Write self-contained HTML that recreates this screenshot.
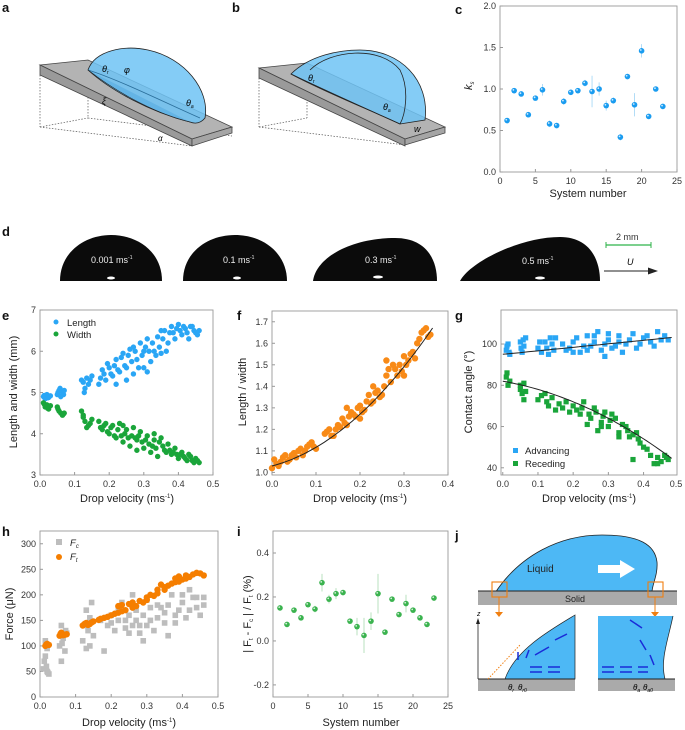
<!DOCTYPE html>
<html><head><meta charset="utf-8">
<style>
html,body{margin:0;padding:0;background:#fff;}
svg{display:block;font-family:"Liberation Sans",sans-serif;}
</style></head>
<body>
<svg id="fig" width="685" height="730" viewBox="0 0 685 730" xmlns="http://www.w3.org/2000/svg">
<g font-weight="bold" font-size="13" fill="#111">
<text x="2" y="12">a</text><text x="232" y="12">b</text><text x="455" y="14">c</text>
<text x="2" y="236">d</text><text x="2" y="320">e</text><text x="237" y="320">f</text>
<text x="455" y="320">g</text><text x="2" y="536">h</text><text x="237" y="536">i</text><text x="455" y="540">j</text>
</g>

<g>
<g stroke="#555" stroke-width="0.7" stroke-dasharray="1.5,1.5" fill="none">
<line x1="40" y1="75" x2="40" y2="127"/><line x1="40" y1="127" x2="192" y2="146"/><line x1="40" y1="127" x2="88" y2="118"/><line x1="88" y1="70" x2="88" y2="118"/><line x1="88" y1="118" x2="232" y2="136"/>
</g>
<polygon points="40,65 88,60 232,127 192,139" fill="#b3b3b3" stroke="#444" stroke-width="0.8"/>
<polygon points="40,65 192,139 192,146 40,75" fill="#9a9a9a" stroke="#444" stroke-width="0.8"/>
<polygon points="192,139 232,127 232,133 192,146" fill="#a5a5a5" stroke="#444" stroke-width="0.8"/>
<path d="M88,70 C95,50 125,45 148,50 C185,58 210,90 205,118 C200,124 195,124 190,122 C150,112 110,90 88,70 Z" fill="#6ec3f5" fill-opacity="0.85" stroke="#222" stroke-width="0.8"/>
<path d="M88,70 C120,80 170,105 200,118" stroke="#2a6e9a" stroke-width="0.8" fill="none"/>
<path d="M88,70 C120,95 160,115 190,122" fill="#4fa8e0" fill-opacity="0.5" stroke="#222" stroke-width="0.6"/>
<text x="102" y="72" font-size="9" font-style="italic">θ<tspan font-size="5" dy="2">r</tspan></text>
<text x="124" y="73" font-size="9" font-style="italic">φ</text>
<text x="102" y="104" font-size="9" font-style="italic">ξ</text>
<text x="186" y="106" font-size="9" font-style="italic">θ<tspan font-size="5" dy="2">a</tspan></text>
<text x="158" y="141" font-size="8" font-style="italic">α</text>
</g>

<g>
<g stroke="#555" stroke-width="0.7" stroke-dasharray="1.5,1.5" fill="none">
<line x1="259" y1="78" x2="259" y2="127"/><line x1="259" y1="127" x2="405" y2="145"/><line x1="259" y1="127" x2="307" y2="118"/><line x1="307" y1="72" x2="307" y2="118"/>
</g>
<polygon points="259,68 307,63 445,127 405,139" fill="#b3b3b3" stroke="#444" stroke-width="0.8"/>
<polygon points="259,68 405,139 405,146 259,78" fill="#9a9a9a" stroke="#444" stroke-width="0.8"/>
<polygon points="405,139 445,127 445,133 405,145" fill="#a5a5a5" stroke="#444" stroke-width="0.8"/>
<path d="M291,74 C310,55 340,50 360,50 C400,50 430,80 425,120 L400,124 C360,106 320,88 291,74 Z" fill="#6ec3f5" fill-opacity="0.85" stroke="#222" stroke-width="0.8"/>
<path d="M310,70 C330,50 380,45 400,70 C410,90 405,115 400,124" stroke="#222" stroke-width="0.8" fill="none"/>
<path d="M291,74 C320,90 370,110 400,124" stroke="#222" stroke-width="0.8" fill="none"/>
<text x="308" y="81" font-size="9" font-style="italic">θ<tspan font-size="5" dy="2">r</tspan></text>
<text x="383" y="110" font-size="9" font-style="italic">θ<tspan font-size="5" dy="2">a</tspan></text>
<text x="414" y="132" font-size="9" font-style="italic">w</text>
</g>

<g>
<path d="M60,281 C60,252 85,235 111,235 C138,235 162,252 162,281 Z" fill="#0b0b0b"/>
<path d="M183,281 C183,252 208,235 235,235 C264,235 287,254 287,281 Z" fill="#0b0b0b"/>
<path d="M313,281 C316,258 350,238 395,238 C425,238 437,258 437,281 Z" fill="#0b0b0b"/>
<path d="M460,281 C470,262 520,237 560,237 C590,237 600,260 600,281 Z" fill="#0b0b0b"/>
<g fill="#eee" font-size="9"><text x="91" y="263">0.001 ms<tspan font-size="5" dy="-4">-1</tspan></text>
<text x="223" y="263">0.1 ms<tspan font-size="5" dy="-4">-1</tspan></text>
<text x="365" y="263">0.3 ms<tspan font-size="5" dy="-4">-1</tspan></text>
<text x="522" y="264">0.5 ms<tspan font-size="5" dy="-4">-1</tspan></text></g>
<g fill="#fff"><ellipse cx="111" cy="278" rx="4" ry="1.5"/><ellipse cx="237" cy="278" rx="4" ry="1.5"/><ellipse cx="378" cy="277" rx="5" ry="1.5"/><ellipse cx="540" cy="278" rx="5" ry="1.5"/></g>
<line x1="606" y1="245" x2="651" y2="245" stroke="#2fb34a" stroke-width="1.2"/>
<line x1="606" y1="242" x2="606" y2="248" stroke="#2fb34a"/><line x1="651" y1="242" x2="651" y2="248" stroke="#2fb34a"/>
<text x="616" y="240" font-size="9" fill="#333">2 mm</text>
<line x1="604" y1="271" x2="650" y2="271" stroke="#222" stroke-width="1"/>
<polygon points="658,271 648,267.5 648,274.5" fill="#222"/>
<text x="627" y="265" font-size="9" font-style="italic">U</text>
</g>

<g>
<path d="M495,593 C520,555 560,535 602,535 C640,535 655,545 657,562 C658,575 652,585 652,592 Z" fill="#4db8f5" stroke="#222" stroke-width="0.8"/>
<text x="527" y="572" font-size="10" fill="#222">Liquid</text>
<polygon points="598,565 620,565 620,560 635,569 620,578 620,573 598,573" fill="#fff"/>
<rect x="478" y="591" width="199" height="14" fill="#aaa"/><line x1="478" y1="591" x2="677" y2="591" stroke="#222" stroke-width="1"/>
<text x="565" y="602" font-size="9" fill="#222">Solid</text>
<rect x="492" y="582" width="15" height="15" fill="none" stroke="#f07f10" stroke-width="1.1"/>
<rect x="648" y="582" width="15" height="15" fill="none" stroke="#f07f10" stroke-width="1.1"/>
<line x1="499" y1="597" x2="499" y2="612" stroke="#f07f10"/><polygon points="495,612 503,612 499,617" fill="#f07f10"/>
<line x1="655" y1="597" x2="655" y2="612" stroke="#f07f10"/><polygon points="651,612 659,612 655,617" fill="#f07f10"/>
<path d="M505,679 C515,650 550,630 575,615 L575,679 Z" fill="#4db8f5" stroke="#222" stroke-width="0.7"/>
<rect x="478" y="679" width="97" height="12" fill="#aaa"/><line x1="478" y1="679" x2="575" y2="679" stroke="#222"/>
<line x1="478" y1="679" x2="478" y2="622" stroke="#222" stroke-width="0.8"/><polygon points="476,624 480,624 478,618" fill="#222"/>
<text x="477" y="616" font-size="7" font-style="italic">z</text>
<line x1="488" y1="679" x2="520" y2="645" stroke="#f07f10" stroke-dasharray="1.5,1.5"/>
<path d="M598,616 L673,616 C668,640 660,660 665,679 L598,679 Z" fill="#4db8f5"/>
<path d="M673,616 C668,640 660,660 665,679" fill="none" stroke="#222" stroke-width="0.7"/>
<rect x="598" y="679" width="77" height="12" fill="#aaa"/><line x1="598" y1="679" x2="675" y2="679" stroke="#222"/>
<g stroke="#1a2cd8" stroke-width="1.5" fill="none">
<path d="M530,672 h12 M548,672 h12 M530,667 h12 M548,667 h12 M602,672 h12 M620,672 h12 M638,672 h10 M602,667 h12 M620,667 h12 M638,667 h10 M535,655 l14,-8 M555,640 l12,-6 M518,660 l0,-8 M526,658 l3,-8 M630,620 l12,8 M640,640 l6,10 M650,655 l4,10"/></g>
<text x="508" y="690" font-size="8" font-style="italic">θ<tspan font-size="5" dy="2">r</tspan></text>
<text x="518" y="690" font-size="8" font-style="italic">θ<tspan font-size="5" dy="2">r0</tspan></text>
<text x="633" y="690" font-size="8" font-style="italic">θ<tspan font-size="5" dy="2">a</tspan></text>
<text x="643" y="690" font-size="8" font-style="italic">θ<tspan font-size="5" dy="2">a0</tspan></text>
</g>

<g id="charts"></g>
</svg>
<script>
const sysNum = [1,2,3,4,5,6,7,8,9,10,11,12,13,14,15,16,17,18,19,20,21,22,23];
const ksVals = [0.62,0.98,0.94,0.69,0.89,0.99,0.58,0.56,0.85,0.96,0.98,1.07,0.97,1.0,0.8,0.86,0.42,1.15,0.81,1.46,0.67,1.0,0.79];
const ksErr  = [0.02,0.02,0.02,0.02,0.02,0.07,0.04,0.02,0.04,0.02,0.02,0.04,0.19,0.08,0.06,0.04,0.04,0.02,0.14,0.08,0.02,0.02,0.02];
const iVals = [0.15,0.075,0.14,0.105,0.165,0.145,0.265,0.19,0.215,0.22,0.09,0.065,0.025,0.09,0.215,0.04,0.19,0.12,0.17,0.14,0.105,0.075,0.195];
const iErr  = [0.005,0.005,0.005,0.005,0.005,0.015,0.04,0.02,0.025,0.005,0.005,0.04,0.08,0.04,0.09,0.005,0.005,0.005,0.04,0.005,0.005,0.005,0.005];
const lenV = [0.01,0.015,0.02,0.025,0.03,0.05,0.055,0.06,0.065,0.07,0.058,0.12,0.13,0.135,0.14,0.15,0.128,0.17,0.18,0.19,0.2,0.21,0.22,0.23,0.24,0.25,0.26,0.27,0.28,0.29,0.3,0.31,0.32,0.33,0.34,0.35,0.36,0.37,0.38,0.39,0.4,0.41,0.42,0.43,0.44,0.45,0.46,0.27,0.31,0.25,0.35,0.3,0.22,
 0.012,0.022,0.052,0.068,0.125,0.145,0.175,0.185,0.195,0.205,0.215,0.225,0.235,0.245,0.255,0.265,0.275,0.285,0.295,0.305,0.315,0.325,0.335,0.345,0.355,0.365,0.375,0.385,0.395,0.405,0.415,0.425,0.435,0.445,0.455];
const lenY = [4.9,4.85,4.95,4.88,4.92,4.95,5.05,4.9,5.0,5.05,5.1,5.3,5.1,5.35,5.2,5.4,5.0,5.2,5.55,5.3,5.6,5.4,5.8,5.5,5.95,5.6,6.05,5.45,5.8,6.2,5.6,6.3,5.75,6.0,6.35,5.95,6.5,6.2,6.6,6.3,6.65,6.4,6.55,6.3,6.6,6.45,6.5,6.1,5.5,5.3,6.5,6.0,5.2,
 4.93,4.87,5.0,4.95,5.25,5.3,5.35,5.45,5.7,5.45,5.65,5.55,5.85,5.65,5.9,5.75,6.0,5.6,5.9,6.1,6.0,6.2,5.9,6.1,6.3,6.0,6.45,6.45,6.55,6.5,6.6,6.45,6.6,6.5,6.4];
const widV = [0.01,0.015,0.02,0.025,0.03,0.05,0.055,0.06,0.065,0.07,0.12,0.125,0.13,0.14,0.15,0.135,0.17,0.18,0.19,0.2,0.21,0.22,0.23,0.24,0.25,0.26,0.27,0.28,0.29,0.3,0.31,0.32,0.33,0.34,0.35,0.36,0.37,0.38,0.39,0.4,0.41,0.42,0.43,0.44,0.45,0.46,0.28,0.24,0.33,
 0.012,0.022,0.052,0.068,0.125,0.145,0.175,0.185,0.195,0.205,0.215,0.225,0.235,0.245,0.255,0.265,0.275,0.285,0.295,0.305,0.315,0.325,0.335,0.345,0.355,0.365,0.375,0.385,0.395,0.405,0.415,0.425,0.435,0.445,0.455];
const widY = [4.75,4.65,4.7,4.6,4.68,4.65,4.55,4.5,4.45,4.5,4.55,4.4,4.3,4.2,4.35,4.15,4.3,4.1,4.25,4.0,4.2,3.9,4.25,3.8,4.1,3.7,4.15,3.85,4.05,3.65,3.95,3.55,3.85,3.45,3.9,3.6,3.75,3.5,3.65,3.4,3.55,3.4,3.5,3.35,3.4,3.3,3.6,4.2,4.0,
 4.72,4.62,4.6,4.48,4.45,4.25,4.15,4.2,4.05,4.15,3.95,4.1,3.95,4.0,3.9,3.95,3.9,3.95,3.8,3.85,3.75,3.7,3.65,3.8,3.7,3.55,3.6,3.55,3.5,3.5,3.45,3.35,3.45,3.3,3.35];
const ratV = [0.0,0.005,0.01,0.02,0.03,0.04,0.05,0.06,0.07,0.08,0.09,0.1,0.12,0.13,0.14,0.15,0.16,0.17,0.18,0.19,0.2,0.21,0.22,0.23,0.24,0.25,0.26,0.26,0.27,0.28,0.29,0.3,0.3,0.31,0.32,0.33,0.34,0.35,0.36,0.2,0.23,0.17,
 0.015,0.025,0.035,0.045,0.055,0.065,0.075,0.085,0.095,0.125,0.135,0.145,0.155,0.165,0.175,0.185,0.195,0.205,0.215,0.225,0.235,0.245,0.255,0.265,0.275,0.285,0.295,0.305,0.315,0.325,0.335,0.345,0.355];
const ratY = [1.02,1.06,1.04,1.05,1.08,1.06,1.09,1.1,1.08,1.12,1.14,1.11,1.18,1.2,1.17,1.22,1.25,1.22,1.28,1.26,1.31,1.29,1.36,1.33,1.38,1.36,1.45,1.52,1.42,1.48,1.5,1.45,1.54,1.52,1.56,1.6,1.65,1.67,1.64,1.25,1.4,1.3,
 1.03,1.07,1.05,1.08,1.07,1.11,1.1,1.13,1.12,1.19,1.17,1.2,1.21,1.23,1.26,1.27,1.3,1.28,1.33,1.32,1.37,1.35,1.4,1.48,1.5,1.45,1.47,1.5,1.55,1.53,1.62,1.66,1.63];
const ratFit = [1.03,0.53,3.36];
const advV = [0.01,0.015,0.02,0.05,0.055,0.06,0.065,0.1,0.12,0.13,0.14,0.15,0.18,0.2,0.22,0.24,0.25,0.27,0.28,0.3,0.32,0.33,0.35,0.37,0.38,0.4,0.42,0.44,0.46,0.47,0.29,0.26,0.34,
 0.012,0.018,0.052,0.058,0.105,0.11,0.125,0.135,0.145,0.17,0.19,0.21,0.23,0.26,0.29,0.31,0.33,0.36,0.39,0.41,0.43,0.45,0.3,0.2,0.24];
const advY = [97,100,95,101,96,99,103,98,101,95,100,103,97,101,96,104,99,106,97,102,99,104,100,105,98,103,101,106,104,102,94,101,96,
 99,96,98,102,101,96,98,103,97,100,98,103,99,104,100,98,101,102,100,104,99,102,105,96,97];
const recV = [0.01,0.015,0.02,0.05,0.055,0.06,0.06,0.1,0.12,0.13,0.14,0.15,0.18,0.19,0.2,0.22,0.23,0.25,0.26,0.28,0.29,0.3,0.32,0.33,0.35,0.36,0.38,0.39,0.4,0.42,0.43,0.44,0.45,0.46,0.47,0.37,0.27,0.24,
 0.012,0.05,0.065,0.11,0.125,0.16,0.17,0.21,0.225,0.245,0.265,0.285,0.305,0.31,0.34,0.355,0.37,0.385,0.41,0.44,0.465,0.33,0.28];
const recY = [84,80,82,78,76,81,73,73,76,70,74,68,72,67,70,66,72,64,69,62,67,60,64,57,60,55,57,52,50,46,42,45,43,46,44,44,58,61,
 86,80,77,75,72,71,69,68,69,66,67,65,63,66,61,58,56,54,49,42,45,55,60];
const advFit = [95,17,0];
const recFit = [82,-30,-100];
const ftV = [0.015,0.02,0.025,0.055,0.06,0.07,0.075,0.12,0.13,0.14,0.15,0.17,0.19,0.2,0.22,0.22,0.24,0.25,0.27,0.28,0.3,0.31,0.33,0.35,0.36,0.38,0.4,0.42,0.44,0.46,0.34,0.39,
 0.018,0.058,0.065,0.125,0.135,0.145,0.165,0.18,0.21,0.23,0.23,0.26,0.26,0.29,0.3,0.32,0.33,0.35,0.37,0.38,0.39,0.41,0.41,0.43,0.45];
const ftY = [100,104,102,120,126,122,123,140,145,143,148,153,157,160,165,178,170,182,178,188,190,200,203,210,218,225,230,235,243,238,220,236,
 103,124,121,143,141,146,151,155,163,168,180,175,185,185,195,198,210,215,222,232,226,232,238,240,242];
const fcV = [0.01,0.015,0.02,0.02,0.025,0.015,0.055,0.06,0.065,0.07,0.075,0.06,0.12,0.13,0.135,0.14,0.145,0.15,0.18,0.19,0.2,0.21,0.23,0.24,0.25,0.27,0.28,0.3,0.31,0.32,0.34,0.35,0.37,0.38,0.4,0.41,0.43,0.44,0.46,0.42,0.36,0.29,0.26,
 0.012,0.018,0.022,0.058,0.062,0.072,0.125,0.13,0.14,0.17,0.2,0.22,0.22,0.25,0.26,0.27,0.29,0.3,0.31,0.33,0.33,0.35,0.36,0.38,0.39,0.4,0.42,0.44,0.45,0.46,0.24,0.28];
const fcY = [55,80,50,95,45,110,100,140,115,90,125,70,110,170,130,100,185,120,90,140,160,130,185,150,125,170,140,190,150,130,175,145,200,160,185,155,195,175,180,210,120,110,200,
 70,60,48,120,105,130,140,95,155,150,145,150,170,160,140,150,160,140,175,155,180,165,180,145,170,200,170,195,160,195,135,125];

const NS="http://www.w3.org/2000/svg";
const root=document.getElementById('charts');
function mk(tag,attrs,parent){const e=document.createElementNS(NS,tag);for(const k in attrs)e.setAttribute(k,attrs[k]);(parent||root).appendChild(e);return e;}
function txt(x,y,s,attrs,parent){const e=mk('text',Object.assign({x:x,y:y,'font-size':9,fill:'#333'},attrs||{}),parent);e.textContent=s;return e;}
function sub(t,s,after){const a=mk('tspan',{'font-size':6,dy:2},t);a.textContent=s;const b=mk('tspan',{dy:-2},t);b.textContent=after||'';}

function axes(o){
  const g=mk('g',{});
  
  
  const sx=v=>o.x0+(v-o.xmin)/(o.xmax-o.xmin)*(o.x1-o.x0);
  const sy=v=>o.y1-(v-o.ymin)/(o.ymax-o.ymin)*(o.y1-o.y0);
  mk('rect',{x:o.x0,y:o.y0,width:o.x1-o.x0,height:o.y1-o.y0,fill:'none',stroke:'#999','stroke-width':0.9},g);
  o.xt.forEach(t=>{const X=sx(t);mk('line',{x1:X,y1:o.y1,x2:X,y2:o.y1-3,stroke:'#999'},g);const l=txt(X,o.y1+12,o.xfmt(t),{'text-anchor':'middle'},g);});
  o.yt.forEach(t=>{const Y=sy(t);mk('line',{x1:o.x0,y1:Y,x2:o.x0+3,y2:Y,stroke:'#999'},g);const l=txt(o.x0-4,Y+3,o.yfmt(t),{'text-anchor':'end'},g);});
  return {g,sx,sy};
}
function xtitle(g,x,y,s){const t=txt(x,y,s,{'text-anchor':'middle','font-size':11,fill:'#222'},g);
  if(s.indexOf('velocity')>=0){t.textContent='Drop velocity (ms';const sp=mk('tspan',{'font-size':6,dy:-4},t);sp.textContent='-1';const sp2=mk('tspan',{dy:4},t);sp2.textContent=')';}return t;}
function ytitle(g,x,y,s){const t=txt(x,y,s,{'text-anchor':'middle','font-size':11,fill:'#222',transform:'rotate(-90 '+x+' '+y+')'},g);return t;}
const f1=v=>v.toFixed(1);const f0=v=>String(v);
function pts(ax,V,Y,col,r,name,sq){V.forEach((v,i)=>{let e;if(sq)e=mk('rect',{x:ax.sx(v)-r,y:ax.sy(Y[i])-r,width:2*r,height:2*r,fill:col},ax.g);else e=mk('circle',{cx:ax.sx(v),cy:ax.sy(Y[i]),r:r,fill:col},ax.g);});}
function fitLine(ax,p,xa,xb){let d='';for(let k=0;k<=40;k++){const v=xa+(xb-xa)*k/40;const y=p[0]+p[1]*v+p[2]*v*v;d+=(k?'L':'M')+ax.sx(v).toFixed(1)+','+ax.sy(y).toFixed(1);}const e=mk('path',{d:d,fill:'none',stroke:'#222','stroke-width':1},ax.g);}
function errPts(ax,X,Y,E,col,ecol,name){X.forEach((x,i)=>{const e1=mk('line',{x1:ax.sx(x),x2:ax.sx(x),y1:ax.sy(Y[i]-E[i]),y2:ax.sy(Y[i]+E[i]),stroke:ecol,'stroke-width':0.8},ax.g);
 const c=mk('circle',{cx:ax.sx(x),cy:ax.sy(Y[i]),r:2.8,fill:col},ax.g);
 mk('circle',{cx:ax.sx(x)-0.8,cy:ax.sy(Y[i])-0.8,r:0.9,fill:'#fff','fill-opacity':0.8},ax.g);});}

// c
let A=axes({name:'chart-c',x0:500,x1:677,y0:6,y1:172,xmin:0,xmax:25,ymin:0,ymax:2,xt:[0,5,10,15,20,25],yt:[0,0.5,1,1.5,2],xfmt:f0,yfmt:f1});
xtitle(A.g,588,197,'System number');
const kl=txt(472,90,'k',{'font-size':11,'font-style':'italic',fill:'#222',transform:'rotate(-90 472 90)'},A.g);sub(kl,'s');
errPts(A,sysNum,ksVals,ksErr,'#1a9cf0','#9fd4f5','ks-point');

// e
A=axes({name:'chart-e',x0:40,x1:213,y0:310,y1:475,xmin:0,xmax:0.5,ymin:3,ymax:7,xt:[0,0.1,0.2,0.3,0.4,0.5],yt:[3,4,5,6,7],xfmt:f1,yfmt:f0});
xtitle(A.g,127,502,'velocity');ytitle(A.g,17,392,'Length and width (mm)');
pts(A,lenV,lenY,'#2aa6f5',2.7,'length-point');pts(A,widV,widY,'#1aa53a',2.7,'width-point');
mk('circle',{cx:56,cy:322,r:2.5,fill:'#2aa6f5'},A.g);txt(67,326,'Length',{'font-size':9.5,fill:'#222'},A.g);
mk('circle',{cx:56,cy:334,r:2.5,fill:'#1aa53a'},A.g);txt(67,338,'Width',{'font-size':9.5,fill:'#222'},A.g);

// f
A=axes({name:'chart-f',x0:272,x1:448,y0:311,y1:475,xmin:0,xmax:0.4,ymin:0.988,ymax:1.75,xt:[0,0.1,0.2,0.3,0.4],yt:[1.0,1.1,1.2,1.3,1.4,1.5,1.6,1.7],xfmt:f1,yfmt:f1});
xtitle(A.g,360,502,'velocity');ytitle(A.g,246,392,'Length / width');
pts(A,ratV,ratY,'#f88a17',3.2,'ratio-point');fitLine(A,ratFit,0,0.365);

// g
A=axes({name:'chart-g',x0:501,x1:677,y0:310,y1:475,xmin:-0.005,xmax:0.495,ymin:36.5,ymax:116.5,xt:[0,0.1,0.2,0.3,0.4],yt:[40,60,80,100],xfmt:f1,yfmt:f0});
txt(676,487,'0.5',{'text-anchor':'middle'},A.g);
xtitle(A.g,589,502,'velocity');ytitle(A.g,472,392,'Contact angle (°)');
pts(A,advV,advY,'#2aa6f5',2.6,'advancing-point',true);pts(A,recV,recY,'#1aa53a',2.6,'receding-point',true);
fitLine(A,advFit,0,0.48);fitLine(A,recFit,0,0.48);
mk('rect',{x:513,y:448,width:5,height:5,fill:'#2aa6f5'},A.g);txt(525,454,'Advancing',{'font-size':9.5,fill:'#222'},A.g);
mk('rect',{x:513,y:461,width:5,height:5,fill:'#1aa53a'},A.g);txt(525,467,'Receding',{'font-size':9.5,fill:'#222'},A.g);

// h
A=axes({name:'chart-h',x0:40,x1:218,y0:531,y1:697,xmin:0,xmax:0.5,ymin:0,ymax:325,xt:[0,0.1,0.2,0.3,0.4,0.5],yt:[0,50,100,150,200,250,300],xfmt:f1,yfmt:f0});
xtitle(A.g,129,726,'velocity');ytitle(A.g,13,614,'Force (μN)');
pts(A,fcV,fcY,'#bdbdbd',2.8,'fc-point',true);pts(A,ftV,ftY,'#f57e00',3.2,'ft-point');
mk('rect',{x:56,y:539,width:6,height:6,fill:'#bdbdbd'},A.g);const t1=txt(70,546,'F',{'font-size':9.5,'font-style':'italic',fill:'#222'},A.g);sub(t1,'c');
mk('circle',{cx:59,cy:557,r:3,fill:'#f57e00'},A.g);const t2=txt(70,560,'F',{'font-size':9.5,'font-style':'italic',fill:'#222'},A.g);sub(t2,'t');

// i
A=axes({name:'chart-i',x0:273,x1:448,y0:531,y1:697,xmin:0,xmax:25,ymin:-0.255,ymax:0.5,xt:[0,5,10,15,20,25],yt:[-0.2,0,0.2,0.4],xfmt:f0,yfmt:f1});
xtitle(A.g,361,726,'System number');
const yi=ytitle(A.g,251,614,'| F');sub(yi,'t',' - F');sub(yi,'c',' | / F');sub(yi,'t','   (%)');
errPts(A,sysNum,iVals,iErr,'#3bb34f','#a8dbaf','error-ratio-point');
</script>
</body></html>
